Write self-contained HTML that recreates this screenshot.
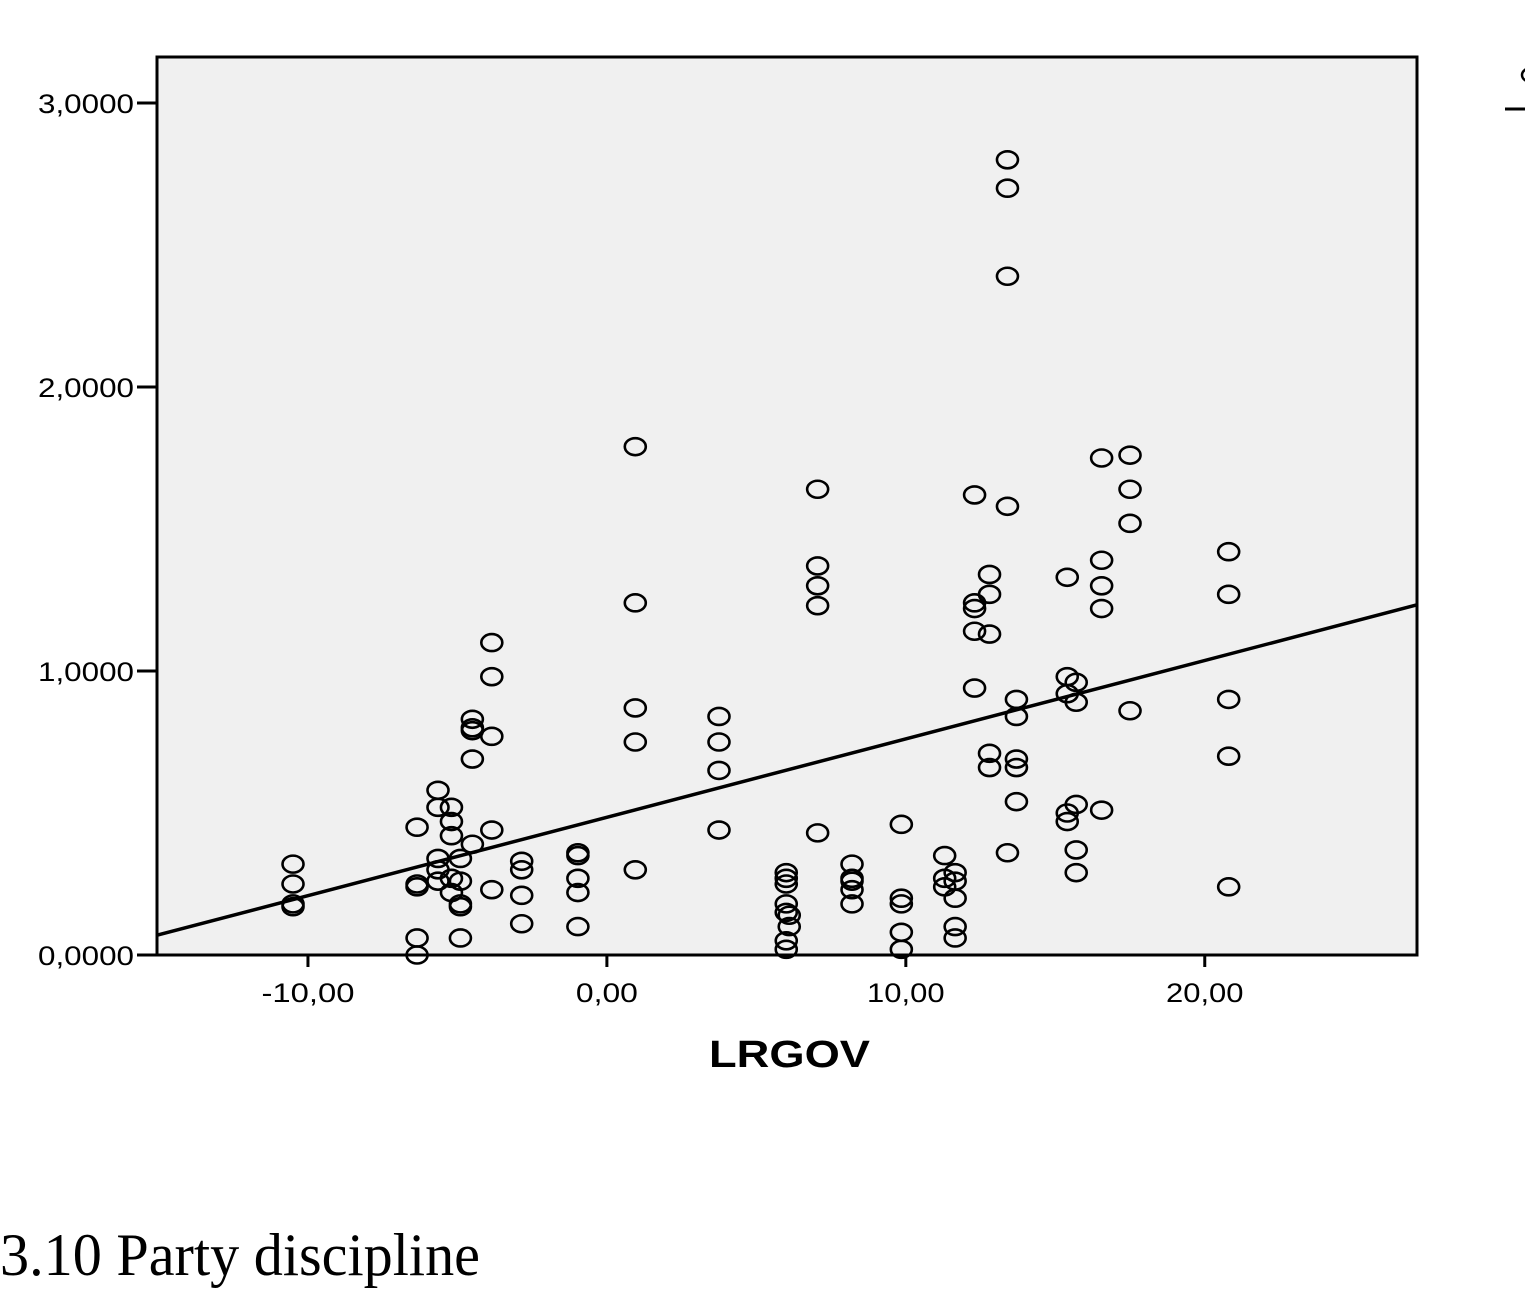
<!DOCTYPE html>
<html><head><meta charset="utf-8"><style>
html,body{margin:0;padding:0;background:#fff;width:1525px;height:1301px;overflow:hidden}
svg{display:block}
</style></head><body>
<svg id="chart" width="1525" height="1301" xmlns="http://www.w3.org/2000/svg">
<rect x="157" y="57" width="1260" height="898" fill="#f0f0f0" stroke="#000" stroke-width="3"/>
<g id="marks"></g>
<g id="axes"></g>
<line x1="1505" y1="109" x2="1525" y2="109" stroke="#000" stroke-width="3"/>
<ellipse cx="1531" cy="75" rx="9" ry="7" fill="none" stroke="#000" stroke-width="2.5"/>
<text x="709" y="1067" textLength="161" lengthAdjust="spacingAndGlyphs" font-family="Liberation Sans, sans-serif" font-weight="bold" font-size="38">LRGOV</text>
<text x="0" y="1275" textLength="480" lengthAdjust="spacingAndGlyphs" font-family="Liberation Serif, serif" font-size="60">3.10 Party discipline</text>
</svg>
<script>
const xCats=[-10.5,-6.35,-5.65,-5.2,-4.9,-4.5,-3.85,-2.85,-0.97,0.95,3.75,6.0,6.1,7.05,8.2,9.85,11.3,11.65,12.3,12.8,13.4,13.7,15.4,15.7,16.55,17.5,20.8];
const yVals=[
[0.32,0.25,0.18,0.17],
[0.45,0.25,0.24,0.06,0.0],
[0.58,0.52,0.34,0.30,0.26],
[0.52,0.47,0.42,0.27,0.22],
[0.34,0.26,0.18,0.17,0.06],
[0.83,0.80,0.79,0.69,0.39],
[1.10,0.98,0.77,0.44,0.23],
[0.33,0.30,0.21,0.11],
[0.36,0.35,0.27,0.22,0.10],
[1.79,1.24,0.87,0.75,0.30],
[0.84,0.75,0.65,0.44],
[0.29,0.27,0.25,0.18,0.15,0.05,0.02],
[0.14,0.10],
[1.64,1.37,1.30,1.23,0.43],
[0.32,0.27,0.26,0.23,0.18],
[0.46,0.20,0.18,0.08,0.02],
[0.35,0.27,0.24],
[0.29,0.26,0.20,0.10,0.06],
[1.62,1.24,1.22,1.14,0.94],
[1.34,1.27,1.13,0.71,0.66],
[2.80,2.70,2.39,1.58,0.36],
[0.90,0.84,0.69,0.66,0.54],
[1.33,0.98,0.92,0.50,0.47],
[0.96,0.89,0.53,0.37,0.29],
[1.75,1.39,1.30,1.22,0.51],
[1.76,1.64,1.52,0.86],
[1.42,1.27,0.90,0.70,0.24]];
const fitIntercept=0.485, fitSlope=0.0276;
const xTicks=[-10,0,10,20], xTickLabels=["-10,00","0,00","10,00","20,00"];
const yTicks=[0,1,2,3], yTickLabels=["0,0000","1,0000","2,0000","3,0000"];
const NS="http://www.w3.org/2000/svg";
const X0=157,X1=1417,Y0=955,Y1=57,xmin=-15.05,xmax=27.1,ymin=0,ymax=3.162;
const sx=v=>X0+(v-xmin)/(xmax-xmin)*(X1-X0);
const sy=v=>Y0-(v-ymin)/(ymax-ymin)*(Y0-Y1);
const marks=document.getElementById('marks'),axes=document.getElementById('axes');
function mk(t,a){const e=document.createElementNS(NS,t);for(const k in a)e.setAttribute(k,a[k]);return e;}
xCats.forEach((xv,i)=>{yVals[i].forEach(yv=>{
 const c=mk('ellipse',{cx:sx(xv),cy:sy(yv),rx:10.5,ry:8.5,fill:'none',stroke:'#000','stroke-width':2.6});
 
 
 marks.appendChild(c);});});
const ln=mk('line',{x1:sx(xmin),y1:sy(fitIntercept+fitSlope*xmin),x2:sx(xmax),y2:sy(fitIntercept+fitSlope*xmax),stroke:'#000','stroke-width':3.5});


marks.appendChild(ln);
xTicks.forEach((t,i)=>{
 const l=mk('line',{x1:sx(t),y1:955,x2:sx(t),y2:967,stroke:'#000','stroke-width':3});
 
 
 axes.appendChild(l);
 const w=xTickLabels[i].length*15.5;
 const tx=mk('text',{x:sx(t)-w/2,y:1002,textLength:w,lengthAdjust:'spacingAndGlyphs','font-family':'Liberation Sans, sans-serif','font-size':27});
 tx.textContent=xTickLabels[i];
 
 
 axes.appendChild(tx);});
yTicks.forEach((t,i)=>{
 const l=mk('line',{x1:137,y1:sy(t),x2:157,y2:sy(t),stroke:'#000','stroke-width':3});
 
 
 axes.appendChild(l);
 const tx=mk('text',{x:38,y:sy(t)+10,textLength:96,lengthAdjust:'spacingAndGlyphs','font-family':'Liberation Sans, sans-serif','font-size':27});
 tx.textContent=yTickLabels[i];
 
 
 axes.appendChild(tx);});
</script>
</body></html>
